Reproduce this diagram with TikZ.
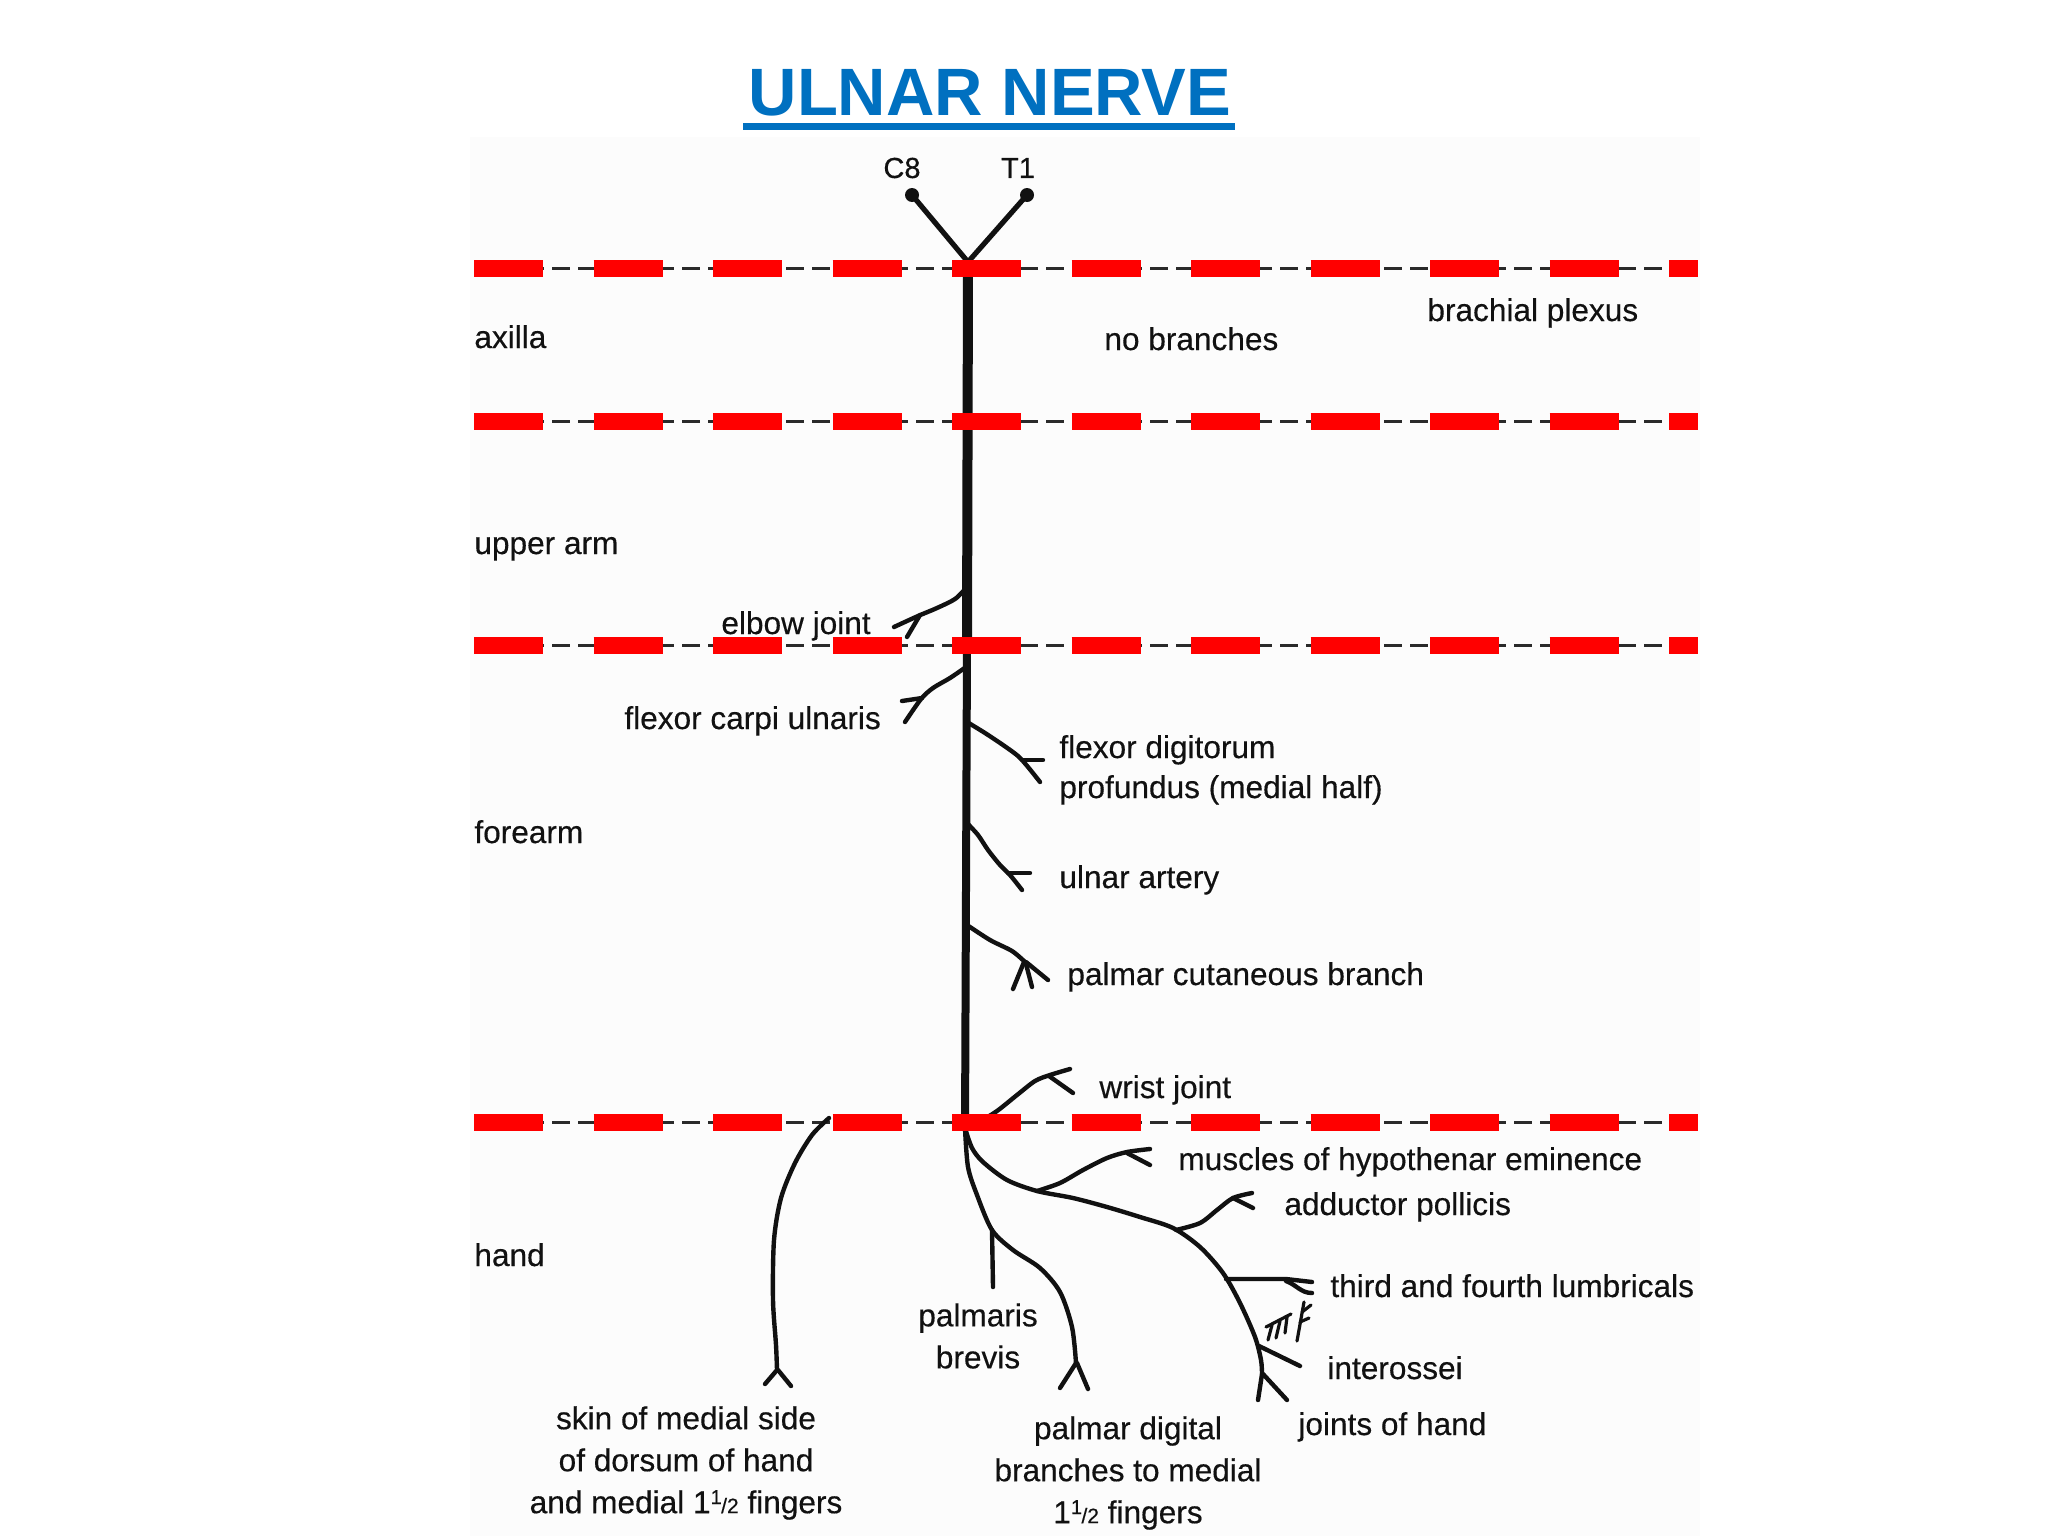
\documentclass[tikz,border=0pt]{standalone}
\usepackage{fontspec}
\setmainfont{Liberation Sans}
\newfontfamily\lblfont[FakeBold=0.4]{Liberation Sans}
\usetikzlibrary{calc}
\definecolor{titleblue}{HTML}{0070C0}
\definecolor{scanbg}{HTML}{FCFCFC}
\definecolor{ink}{HTML}{111111}
\definecolor{guide}{HTML}{2A2A2A}
\definecolor{markred}{HTML}{FF0000}
\newcommand{\myoneandhalf}{1\raisebox{0.55ex}{\fontsize{10}{10}\selectfont 1}\kern-0.3pt{\fontsize{10.5}{10}\selectfont /2}}
\tikzset{
  lbl/.style={inner sep=0pt, font=\lblfont\fontsize{15.8}{21}\selectfont, text=ink, text height=11.3pt, text depth=3.3pt},
  lblw/.style={lbl, anchor=west},
  lblc/.style={inner sep=0pt, font=\lblfont\fontsize{15.8}{21}\selectfont, text=ink, align=center},
  nerve/.style={draw=ink, line width=2.2pt, line cap=round, line join=round},
  rootline/.style={draw=ink, line width=2.6pt, line cap=round},
  rootdot/.style={circle, fill=ink, inner sep=0pt, minimum size=7pt},
  guideline/.style={draw=guide, line width=1.5pt, dash pattern=on 9pt off 4pt},
  redline/.style={draw=markred, line width=8.5pt, dash pattern=on 34.5pt off 25.25pt},
}
\begin{document}
\begin{tikzpicture}[x=0.5pt, y=-0.5pt]
\useasboundingbox (0,0) rectangle (2048,1536);
\fill[white] (0,0) rectangle (2048,1536);
\fill[scanbg] (470,137) rectangle (1700,1536);

% title
\node[anchor=base, inner sep=0pt, font=\fontsize{33.5}{40}\selectfont\bfseries, text=titleblue] (title) at (990,116) {ULNAR NERVE};
\draw[titleblue, line width=3.5pt] ($(title.base west)+(-5,10.5)$) -- ($(title.base east)+(3,10.5)$);

% level guide lines (thin black dashed under red)
\foreach \yy in {268,421,645,1122} {
  \coordinate (gl\yy) at (474,\yy);
  \coordinate (gr\yy) at (1698,\yy);
  \draw[guideline] (gl\yy) -- (gr\yy);
}

% roots
\coordinate (root) at (968,262);
\node[rootdot] (c8) at (912,195) {};
\node[rootdot] (t1) at (1027,195) {};
\node[inner sep=0pt, font=\lblfont\fontsize{14.5}{17}\selectfont, text=ink] (c8lbl) at (902,168) {C8};
\node[inner sep=0pt, font=\lblfont\fontsize{14.5}{17}\selectfont, text=ink] (t1lbl) at (1018,168) {T1};
\draw[rootline] (c8.center) -- (root);
\draw[rootline] (t1.center) -- (root);

% trunk
\coordinate (elbowpt) at (967,645);
\coordinate (wrist) at (965,1130);
\draw[draw=ink, line width=5pt] (root) -- (elbowpt);
\draw[draw=ink, line width=4pt] (elbowpt) -- (wrist);

% elbow joint branch
\draw[nerve] plot[smooth] coordinates {(966,588) (955,599) (937,608) (918,616) (894,627)};
\draw[nerve] (920,615) -- (907,637);
% flexor carpi ulnaris
\draw[nerve] plot[smooth] coordinates {(966,667) (950,678) (933,688) (921,699) (905,722)};
\draw[nerve] (922,698) -- (902,701);
% flexor digitorum profundus
\draw[nerve] plot[smooth] coordinates {(967,722) (985,733) (1003,745) (1018,756) (1028,767) (1040,782)};
\draw[nerve] (1022,760) -- (1043,760);
% ulnar artery
\draw[nerve] plot[smooth] coordinates {(967,823) (978,835) (988,850) (1000,865) (1010,875) (1022,890)};
\draw[nerve] (1008,873) -- (1030,873);
% palmar cutaneous
\draw[nerve] plot[smooth] coordinates {(967,925) (990,940) (1012,951) (1025,962)};
\draw[nerve] (1024,962) -- (1013,989);
\draw[nerve] (1026,964) -- (1032,987);
\draw[nerve] (1026,962) -- (1048,980);
% wrist joint
\draw[nerve] plot[smooth] coordinates {(966,1127) (982,1120) (997,1111) (1017,1095) (1035,1081) (1050,1075) (1070,1069)};
\draw[nerve] (1049,1076) -- (1073,1093);

% deep branch
\draw[nerve] plot[smooth] coordinates {(965,1128) (972,1148) (983,1162) (1007,1180) (1037,1191) (1073,1198) (1107,1207) (1140,1217) (1173,1228) (1200,1247) (1223,1273) (1240,1303) (1255,1337) (1261,1360) (1262,1374)};
\draw[nerve] (1262,1374) -- (1258,1400);
\draw[nerve] (1263,1374) -- (1287,1400);
% hypothenar
\draw[nerve] plot[smooth] coordinates {(1037,1191) (1060,1183) (1083,1170) (1107,1158) (1127,1152) (1150,1149)};
\draw[nerve] (1127,1153) -- (1150,1165);
% adductor pollicis
\draw[nerve] plot[smooth] coordinates {(1176,1230) (1200,1223) (1217,1210) (1233,1198) (1252,1193)};
\draw[nerve] (1233,1198) -- (1253,1208);
% lumbricals
\draw[nerve] (1226,1279) -- (1286,1279) -- (1312,1282);
\draw[nerve] (1286,1281) to[out=-20, in=180] (1312,1293);
% small squiggle
\draw[nerve, line width=1.6pt] (1266,1327) -- (1291,1314);
\draw[nerve, line width=1.6pt] (1272,1325) -- (1268,1340);
\draw[nerve, line width=1.6pt] (1280,1321) -- (1276,1338);
\draw[nerve, line width=1.6pt] (1287,1317) -- (1285,1333);
\draw[nerve, line width=1.6pt] (1304,1302) -- (1297,1341);
\draw[nerve, line width=1.6pt] (1302,1312) -- (1311,1305);
\draw[nerve, line width=1.6pt] (1300,1322) -- (1309,1318);
% interossei
\draw[nerve] (1259,1346) -- (1300,1366);

% superficial branch
\draw[nerve] plot[smooth] coordinates {(965,1128) (968,1167) (977,1195) (992,1230) (1013,1250) (1040,1268) (1060,1292) (1072,1327) (1076,1363)};
\draw[nerve] (1076,1363) -- (1060,1388);
\draw[nerve] (1077,1363) -- (1088,1389);
% palmaris brevis
\draw[nerve] (992,1230) -- (993,1287);

% dorsal branch
\draw[nerve] plot[smooth] coordinates {(829,1118) (812,1135) (795,1163) (781,1198) (774,1240) (773,1300) (776,1345) (777,1370)};
\draw[nerve] (777,1370) -- (765,1384);
\draw[nerve] (778,1370) -- (791,1386);

% red level marks on top
\foreach \yy in {268,421,645,1122} {
  \draw[redline] (gl\yy) -- (gr\yy);
}

% region labels
\node[lblw] (axilla) at (474,340) {axilla};
\node[lblw] (upperarm) at (474,546) {upper arm};
\node[lblw] (forearm) at (474,835) {forearm};
\node[lblw] (hand) at (474,1258) {hand};

% branch labels
\node[lblw] (nobr) at (1104,342) {no branches};
\node[lblw] (plexus) at (1427,313) {brachial plexus};
\node[lblw] (elbow) at (721,626) {elbow joint};
\node[lblw] (fcu) at (624,721) {flexor carpi ulnaris};
\node[lblw] (fdp1) at (1059,750) {flexor digitorum};
\node[lblw] (fdp2) at (1059,790) {profundus (medial half)};
\node[lblw] (ua) at (1059,880) {ulnar artery};
\node[lblw] (pcb) at (1067,977) {palmar cutaneous branch};
\node[lblw] (wj) at (1099,1090) {wrist joint};
\node[lblw] (hyp) at (1178,1162) {muscles of hypothenar eminence};
\node[lblw] (add) at (1284,1207) {adductor pollicis};
\node[lblw] (lumb) at (1330,1289) {third and fourth lumbricals};
\node[lblw] (inter) at (1327,1371) {interossei};
\node[lblw] (joints) at (1298,1427) {joints of hand};
\node[lblc] (pb) at (978,1336) {palmaris\\brevis};
\node[lblc] (pdb) at (1128,1473) {palmar digital\\branches to medial\\\myoneandhalf{} fingers};
\node[lblc] (skin) at (686,1463) {skin of medial side\\of dorsum of hand\\and medial \myoneandhalf{} fingers};
\end{tikzpicture}
\end{document}
